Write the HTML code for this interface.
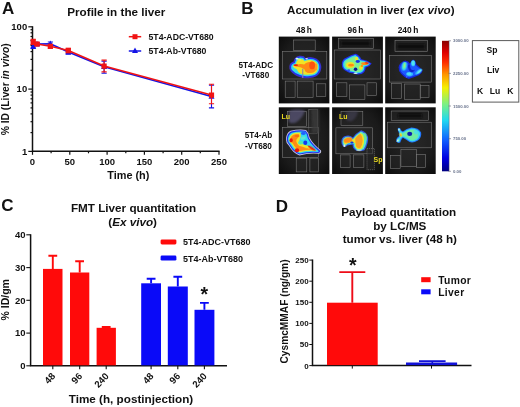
<!DOCTYPE html>
<html><head><meta charset="utf-8"><title>Figure</title>
<style>html,body{margin:0;padding:0;background:#fff}body{width:520px;height:407px;overflow:hidden}svg{display:block}</style>
</head><body>
<svg width="520" height="407" viewBox="0 0 520 407">
<defs>
<filter id="b1" x="-20%" y="-20%" width="140%" height="140%"><feGaussianBlur stdDeviation="0.8"/></filter>
<filter id="b2" x="-20%" y="-20%" width="140%" height="140%"><feGaussianBlur stdDeviation="1.2"/></filter>
<filter id="z5" x="-20%" y="-20%" width="140%" height="140%"><feGaussianBlur stdDeviation="5"/></filter>
<filter id="z3" x="-20%" y="-20%" width="140%" height="140%"><feGaussianBlur stdDeviation="3.5"/></filter>
<filter id="z8" x="-20%" y="-20%" width="140%" height="140%"><feGaussianBlur stdDeviation="7"/></filter>
<filter id="soft" x="-5%" y="-5%" width="110%" height="110%"><feGaussianBlur stdDeviation="0.35"/></filter>
<linearGradient id="jet" x1="0" y1="0" x2="0" y2="1">
<stop offset="0" stop-color="#8a0000"/><stop offset="0.09" stop-color="#e00000"/><stop offset="0.17" stop-color="#ff3000"/><stop offset="0.26" stop-color="#ff9800"/><stop offset="0.36" stop-color="#f4f000"/><stop offset="0.49" stop-color="#78f088"/><stop offset="0.61" stop-color="#20d8f0"/><stop offset="0.76" stop-color="#1060ff"/><stop offset="0.9" stop-color="#0000e0"/><stop offset="1" stop-color="#000080"/>
</linearGradient>
<radialGradient id="pbg" cx="0.5" cy="0.5" r="0.7"><stop offset="0" stop-color="#262626"/><stop offset="0.65" stop-color="#1a1a1a"/><stop offset="1" stop-color="#0c0c0c"/></radialGradient>
</defs>
<rect width="520" height="407" fill="#fff"/>
<text x="2" y="13.8" font-size="17" text-anchor="start" fill="#111" font-family="Liberation Sans, sans-serif" font-weight="bold" >A</text>
<text x="241.3" y="13.8" font-size="17" text-anchor="start" fill="#111" font-family="Liberation Sans, sans-serif" font-weight="bold" >B</text>
<text x="1.3" y="211.4" font-size="17" text-anchor="start" fill="#111" font-family="Liberation Sans, sans-serif" font-weight="bold" >C</text>
<text x="275.7" y="211.5" font-size="17" text-anchor="start" fill="#111" font-family="Liberation Sans, sans-serif" font-weight="bold" >D</text>
<text x="116.3" y="16" font-size="11.7" text-anchor="middle" fill="#111" font-family="Liberation Sans, sans-serif" font-weight="bold" >Profile in the liver</text>
<g stroke="#111" stroke-width="1.5" fill="none">
<path d="M32.5 26.2V151.3H219.6"/>
</g>
<g stroke="#111" stroke-width="1.2" fill="none">
<path d="M28.3 151.4H32.5"/>
<path d="M28.3 89.1H32.5"/>
<path d="M28.3 26.8H32.5"/>
<path d="M30.5 132.6H32.5"/>
<path d="M30.5 121.7H32.5"/>
<path d="M30.5 113.9H32.5"/>
<path d="M30.5 107.9H32.5"/>
<path d="M30.5 102.9H32.5"/>
<path d="M30.5 98.8H32.5"/>
<path d="M30.5 95.1H32.5"/>
<path d="M30.5 92.0H32.5"/>
<path d="M30.5 70.3H32.5"/>
<path d="M30.5 59.4H32.5"/>
<path d="M30.5 51.6H32.5"/>
<path d="M30.5 45.6H32.5"/>
<path d="M30.5 40.6H32.5"/>
<path d="M30.5 36.5H32.5"/>
<path d="M30.5 32.8H32.5"/>
<path d="M30.5 29.7H32.5"/>
<path d="M32.5 151.3V154.8"/>
<path d="M69.8 151.3V154.8"/>
<path d="M107.1 151.3V154.8"/>
<path d="M144.4 151.3V154.8"/>
<path d="M181.7 151.3V154.8"/>
<path d="M219.0 151.3V154.8"/>
<path d="M51.1 151.3V153.3"/>
<path d="M88.5 151.3V153.3"/>
<path d="M125.8 151.3V153.3"/>
<path d="M163.1 151.3V153.3"/>
<path d="M200.3 151.3V153.3"/>
</g>
<text x="27.2" y="154.70000000000002" font-size="9.5" text-anchor="end" fill="#111" font-family="Liberation Sans, sans-serif" font-weight="bold" >1</text>
<text x="27.2" y="92.39999999999999" font-size="9.5" text-anchor="end" fill="#111" font-family="Liberation Sans, sans-serif" font-weight="bold" >10</text>
<text x="27.2" y="30.1" font-size="9.5" text-anchor="end" fill="#111" font-family="Liberation Sans, sans-serif" font-weight="bold" >100</text>
<text x="32.5" y="165" font-size="9.5" text-anchor="middle" fill="#111" font-family="Liberation Sans, sans-serif" font-weight="bold" >0</text>
<text x="69.8" y="165" font-size="9.5" text-anchor="middle" fill="#111" font-family="Liberation Sans, sans-serif" font-weight="bold" >50</text>
<text x="107.1" y="165" font-size="9.5" text-anchor="middle" fill="#111" font-family="Liberation Sans, sans-serif" font-weight="bold" >100</text>
<text x="144.4" y="165" font-size="9.5" text-anchor="middle" fill="#111" font-family="Liberation Sans, sans-serif" font-weight="bold" >150</text>
<text x="181.7" y="165" font-size="9.5" text-anchor="middle" fill="#111" font-family="Liberation Sans, sans-serif" font-weight="bold" >200</text>
<text x="219.0" y="165" font-size="9.5" text-anchor="middle" fill="#111" font-family="Liberation Sans, sans-serif" font-weight="bold" >250</text>
<text x="128.3" y="178.7" font-size="10.9" text-anchor="middle" fill="#111" font-family="Liberation Sans, sans-serif" font-weight="bold" >Time (h)</text>
<text transform="translate(9,89.3) rotate(-90)" font-size="10.3" text-anchor="middle" fill="#111" font-family="Liberation Sans, sans-serif" font-weight="bold">% ID (Liver <tspan font-style="italic">in vivo</tspan>)</text>
<g stroke="#1414e6" fill="none">
<polyline points="33.2,46.3 37.0,44.0 50.4,43.8 68.3,52.0 104.1,66.8 211.5,96.5" stroke-width="1.6"/>
<path d="M33.2 44.5V48.4M30.6 44.5h5.2M30.6 48.4h5.2" stroke-width="1.1"/>
<path d="M37.0 42.5V45.6M34.4 42.5h5.2M34.4 45.6h5.2" stroke-width="1.1"/>
<path d="M50.4 42.0V45.6M47.8 42.0h5.2M47.8 45.6h5.2" stroke-width="1.1"/>
<path d="M68.3 50.0V54.1M65.7 50.0h5.2M65.7 54.1h5.2" stroke-width="1.1"/>
<path d="M104.1 61.2V73.2M101.5 61.2h5.2M101.5 73.2h5.2" stroke-width="1.1"/>
<path d="M211.5 85.3V107.9M208.9 85.3h5.2M208.9 107.9h5.2" stroke-width="1.1"/>
</g>
<path d="M33.2 43.1l3 5.4h-6z" fill="#1414e6"/>
<path d="M37.0 40.8l3 5.4h-6z" fill="#1414e6"/>
<path d="M50.4 40.6l3 5.4h-6z" fill="#1414e6"/>
<path d="M68.3 48.8l3 5.4h-6z" fill="#1414e6"/>
<path d="M104.1 63.6l3 5.4h-6z" fill="#1414e6"/>
<path d="M211.5 93.3l3 5.4h-6z" fill="#1414e6"/>
<g stroke="#f01414" fill="none">
<polyline points="33.2,41.8 37.0,44.0 50.4,46.3 68.3,50.5 104.1,66.1 211.5,95.1" stroke-width="1.6"/>
<path d="M33.2 39.3V44.5M30.6 39.3h5.2M30.6 44.5h5.2" stroke-width="1.1"/>
<path d="M37.0 42.5V45.6M34.4 42.5h5.2M34.4 45.6h5.2" stroke-width="1.1"/>
<path d="M50.4 44.5V48.1M47.8 44.5h5.2M47.8 48.1h5.2" stroke-width="1.1"/>
<path d="M68.3 48.4V52.6M65.7 48.4h5.2M65.7 52.6h5.2" stroke-width="1.1"/>
<path d="M104.1 60.1V71.9M101.5 60.1h5.2M101.5 71.9h5.2" stroke-width="1.1"/>
<path d="M211.5 84.2V103.8M208.9 84.2h5.2M208.9 103.8h5.2" stroke-width="1.1"/>
</g>
<rect x="30.6" y="39.2" width="5.2" height="5.2" fill="#f01414"/>
<rect x="34.4" y="41.4" width="5.2" height="5.2" fill="#f01414"/>
<rect x="47.8" y="43.7" width="5.2" height="5.2" fill="#f01414"/>
<rect x="65.7" y="47.9" width="5.2" height="5.2" fill="#f01414"/>
<rect x="101.5" y="63.5" width="5.2" height="5.2" fill="#f01414"/>
<rect x="208.9" y="92.5" width="5.2" height="5.2" fill="#f01414"/>
<path d="M128.8 36.7h12.4" stroke="#f01414" stroke-width="1.5"/><rect x="132.5" y="34.2" width="5" height="5" fill="#f01414"/>
<path d="M128.8 51h12.4" stroke="#1414e6" stroke-width="1.5"/><path d="M135 47.6l3 5.4h-6z" fill="#1414e6"/>
<text x="148.5" y="39.9" font-size="8.7" text-anchor="start" fill="#111" font-family="Liberation Sans, sans-serif" font-weight="bold" >5T4-ADC-VT680</text>
<text x="148.5" y="54.2" font-size="8.7" text-anchor="start" fill="#111" font-family="Liberation Sans, sans-serif" font-weight="bold" >5T4-Ab-VT680</text>
<text x="370.8" y="14.3" font-size="11.6" text-anchor="middle" fill="#111" font-family="Liberation Sans, sans-serif" font-weight="bold">Accumulation in liver (<tspan font-style="italic">ex vivo</tspan>)</text>
<text x="304" y="32.5" font-size="8.4" text-anchor="middle" fill="#111" font-family="Liberation Sans, sans-serif" font-weight="bold" word-spacing="-0.8">48 h</text>
<text x="355.5" y="32.5" font-size="8.4" text-anchor="middle" fill="#111" font-family="Liberation Sans, sans-serif" font-weight="bold" word-spacing="-0.8">96 h</text>
<text x="408" y="32.5" font-size="8.4" text-anchor="middle" fill="#111" font-family="Liberation Sans, sans-serif" font-weight="bold" word-spacing="-0.8">240 h</text>
<text x="255.8" y="67.5" font-size="8.2" text-anchor="middle" fill="#111" font-family="Liberation Sans, sans-serif" font-weight="bold" >5T4-ADC</text>
<text x="255.8" y="77.8" font-size="8.2" text-anchor="middle" fill="#111" font-family="Liberation Sans, sans-serif" font-weight="bold" >-VT680</text>
<text x="258.5" y="138.2" font-size="8.2" text-anchor="middle" fill="#111" font-family="Liberation Sans, sans-serif" font-weight="bold" >5T4-Ab</text>
<text x="258.5" y="148.6" font-size="8.2" text-anchor="middle" fill="#111" font-family="Liberation Sans, sans-serif" font-weight="bold" >-VT680</text>
<rect x="278.8" y="36.6" width="50.6" height="66.8" fill="url(#pbg)"/>
<rect x="278.8" y="107.3" width="50.6" height="66.7" fill="url(#pbg)"/>
<rect x="332.1" y="36.6" width="50.8" height="66.8" fill="url(#pbg)"/>
<rect x="332.1" y="107.3" width="50.8" height="66.7" fill="url(#pbg)"/>
<rect x="385.2" y="36.6" width="50.5" height="66.8" fill="url(#pbg)"/>
<rect x="385.2" y="107.3" width="50.5" height="66.7" fill="url(#pbg)"/>
<rect x="293.6" y="40.0" width="21.6" height="10.6" fill="#2a2a2a" fill-opacity="0.45" stroke="#808080" stroke-width="0.55"/>
<rect x="282.4" y="51.5" width="44.4" height="27.5" fill="#2a2a2a" fill-opacity="0.45" stroke="#808080" stroke-width="0.55"/>
<rect x="285.2" y="81.1" width="9.9" height="16.5" fill="#2a2a2a" fill-opacity="0.45" stroke="#808080" stroke-width="0.55"/>
<rect x="297.2" y="81.1" width="15.9" height="16.5" fill="#2a2a2a" fill-opacity="0.45" stroke="#808080" stroke-width="0.55"/>
<rect x="316.3" y="83.8" width="9.5" height="12.7" fill="#2a2a2a" fill-opacity="0.45" stroke="#808080" stroke-width="0.55"/>
<rect x="338.5" y="38.3" width="34.9" height="10.2" fill="#2a2a2a" fill-opacity="0.45" stroke="#808080" stroke-width="0.55"/>
<rect x="334.2" y="50.0" width="46.1" height="29.0" fill="#2a2a2a" fill-opacity="0.45" stroke="#808080" stroke-width="0.55"/>
<rect x="336.3" y="82.8" width="10.6" height="13.8" fill="#2a2a2a" fill-opacity="0.45" stroke="#808080" stroke-width="0.55"/>
<rect x="349.5" y="84.9" width="15.4" height="14.4" fill="#2a2a2a" fill-opacity="0.45" stroke="#808080" stroke-width="0.55"/>
<rect x="367.0" y="82.8" width="9.5" height="12.7" fill="#2a2a2a" fill-opacity="0.45" stroke="#808080" stroke-width="0.55"/>
<rect x="341.0" y="41.0" width="29.0" height="5.0" fill="#0a0a0a" filter="url(#b1)"/>
<rect x="287.7" y="111.5" width="19.0" height="14.8" fill="#2a2a2a" fill-opacity="0.45" stroke="#808080" stroke-width="0.55"/>
<rect x="308.8" y="109.4" width="8.5" height="24.3" fill="#2a2a2a" fill-opacity="0.45" stroke="#808080" stroke-width="0.55"/>
<rect x="282.4" y="127.4" width="36.0" height="30.0" fill="#2a2a2a" fill-opacity="0.45" stroke="#808080" stroke-width="0.55"/>
<rect x="296.2" y="158.1" width="10.6" height="13.8" fill="#2a2a2a" fill-opacity="0.45" stroke="#808080" stroke-width="0.55"/>
<rect x="309.9" y="158.1" width="8.5" height="13.8" fill="#2a2a2a" fill-opacity="0.45" stroke="#808080" stroke-width="0.55"/>
<rect x="341.0" y="111.5" width="21.8" height="13.8" fill="#2a2a2a" fill-opacity="0.45" stroke="#808080" stroke-width="0.55"/>
<rect x="335.9" y="127.8" width="36.8" height="26.0" fill="#2a2a2a" fill-opacity="0.45" stroke="#808080" stroke-width="0.55"/>
<rect x="340.6" y="154.9" width="9.5" height="12.7" fill="#2a2a2a" fill-opacity="0.45" stroke="#808080" stroke-width="0.55"/>
<rect x="353.3" y="154.9" width="10.6" height="12.7" fill="#2a2a2a" fill-opacity="0.45" stroke="#808080" stroke-width="0.55"/>
<rect x="367.0" y="148.5" width="7.4" height="21.2" fill="#2a2a2a" fill-opacity="0.45" stroke="#808080" stroke-width="0.55" stroke-dasharray="1.2 0.8"/>
<rect x="395.0" y="40.4" width="32.7" height="11.2" fill="#2a2a2a" fill-opacity="0.45" stroke="#808080" stroke-width="0.55"/>
<rect x="389.3" y="55.4" width="42.1" height="26.7" fill="#2a2a2a" fill-opacity="0.45" stroke="#808080" stroke-width="0.55"/>
<rect x="391.6" y="83.4" width="9.9" height="15.0" fill="#2a2a2a" fill-opacity="0.45" stroke="#808080" stroke-width="0.55"/>
<rect x="404.3" y="84.0" width="15.9" height="15.3" fill="#2a2a2a" fill-opacity="0.45" stroke="#808080" stroke-width="0.55"/>
<rect x="420.2" y="85.3" width="8.8" height="12.1" fill="#2a2a2a" fill-opacity="0.45" stroke="#808080" stroke-width="0.55"/>
<rect x="397.0" y="44.0" width="28.0" height="5.0" fill="#0a0a0a" filter="url(#b1)"/>
<rect x="391.2" y="111.0" width="37.4" height="9.3" fill="#2a2a2a" fill-opacity="0.45" stroke="#808080" stroke-width="0.55"/>
<rect x="387.5" y="122.2" width="43.9" height="25.6" fill="#2a2a2a" fill-opacity="0.45" stroke="#808080" stroke-width="0.55"/>
<rect x="390.3" y="155.3" width="9.9" height="13.1" fill="#2a2a2a" fill-opacity="0.45" stroke="#808080" stroke-width="0.55"/>
<rect x="400.9" y="149.7" width="15.5" height="16.8" fill="#2a2a2a" fill-opacity="0.45" stroke="#808080" stroke-width="0.55"/>
<rect x="416.4" y="154.3" width="9.3" height="13.1" fill="#2a2a2a" fill-opacity="0.45" stroke="#808080" stroke-width="0.55"/>
<rect x="398.0" y="113.5" width="24.0" height="4.5" fill="#0a0a0a" filter="url(#b1)"/>
<path d="M289 111 Q296 108.500 305 110.500 Q303 118 296 122.500 Q290 124.500 288.500 121Z" fill="#5a5678" opacity="0.75" filter="url(#b1)"/>
<path d="M311 109 L319 109 L319 132 L312 134Z" fill="#3a3a3a" opacity="0.8" filter="url(#b1)"/>
<path d="M346 112 Q352 110 358 111 Q357 118 352 121 Q347 122 346 119Z" fill="#46445a" opacity="0.6" filter="url(#b1)"/>
<g transform="translate(285,50) scale(0.09615)">
<path d="M45 170 Q50 130 90 120 Q95 70 150 60 Q200 55 215 85 Q250 65 300 80 Q350 90 370 140 Q390 190 360 240 Q330 290 260 290 Q200 300 150 280 Q90 260 60 220 Q40 200 45 170Z" fill="#4030c0" filter="url(#z8)"/>
<path d="M52 171 Q57 136 95 126 Q100 78 150 68 Q197 63 212 93 Q250 73 297 87 Q345 97 363 143 Q381 190 353 236 Q325 282 259 282 Q200 292 153 273 Q95 254 66 216 Q48 198 52 171Z" fill="#2030f0" filter="url(#z5)"/>
<path d="M64 172 Q68 144 104 136 Q108 90 150 80 Q192 75 208 105 Q250 85 293 97 Q336 107 352 147 Q367 190 343 230 Q318 270 258 270 Q200 279 157 261 Q104 244 76 210 Q60 196 64 172Z" fill="#30d8f0" filter="url(#z5)"/>
<path d="M80 170 Q86 152 114 147 Q120 103 152 93 Q188 89 203 118 Q250 98 290 109 Q326 118 340 152 Q352 190 331 223 Q309 255 256 255 Q200 263 162 247 Q132 233 122 200 Q96 195 80 170Z" fill="#f0e428" filter="url(#z5)"/>
<path d="M92 165 Q100 150 130 150 Q170 140 200 152 Q230 118 285 123 Q318 130 328 157 Q337 190 318 216 Q299 242 255 239 Q212 243 202 200 Q170 176 130 173 Q105 176 92 165Z" fill="#ff8a14" filter="url(#z5)"/>
<ellipse cx="112" cy="157" rx="24" ry="9" fill="#e81810" filter="url(#z5)"/>
<ellipse cx="282" cy="160" rx="30" ry="40" fill="#ff5210" filter="url(#z5)"/>
<ellipse cx="325" cy="175" rx="12" ry="35" fill="#f8a020" filter="url(#z5)"/>
<ellipse cx="125" cy="90" rx="16" ry="9" fill="#d8f8f0" filter="url(#z5)"/>
<ellipse cx="150" cy="100" rx="18" ry="10" fill="#e0f060" filter="url(#z5)"/>
<ellipse cx="100" cy="205" rx="22" ry="10" fill="#40e0d0" filter="url(#z5)" transform="rotate(30 100 205)"/>
<rect x="177" y="195" width="14" height="95" fill="#8c84a8" opacity="0.8" filter="url(#z5)"/>
<ellipse cx="225" cy="90" rx="14" ry="8" fill="#d0d0f0" filter="url(#z5)"/>
</g>
<g transform="translate(335,50) scale(0.09615)">
<g transform="translate(225,145) scale(1.1) translate(-225,-145)">
<path d="M85 150 Q85 100 130 85 Q170 60 215 48 Q250 60 270 100 Q330 110 367 140 Q350 170 310 180 Q310 220 270 240 Q230 250 200 235 Q150 235 120 210 Q85 190 85 150Z" fill="#2030f0" filter="url(#z8)"/>
<path d="M97 150 Q97 108 135 95 Q172 72 213 61 Q243 72 262 110 Q322 120 350 141 Q340 162 299 171 Q299 212 265 229 Q230 238 202 224 Q155 224 127 201 Q97 184 97 150Z" fill="#30d8f0" filter="url(#z5)"/>
<path d="M110 150 Q110 116 142 105 Q175 84 210 75 Q236 85 253 120 Q312 130 335 142 Q325 155 288 162 Q288 203 259 218 Q230 226 204 213 Q160 213 135 192 Q110 178 110 150Z" fill="#80f090" filter="url(#z5)"/>
<ellipse cx="165" cy="155" rx="40" ry="28" fill="#f0e428" filter="url(#z5)"/>
<ellipse cx="172" cy="157" rx="28" ry="13" fill="#ff8a14" filter="url(#z5)"/>
<ellipse cx="225" cy="95" rx="14" ry="18" fill="#f0e428" filter="url(#z5)"/>
<ellipse cx="300" cy="142" rx="32" ry="14" fill="#ff8a14" filter="url(#z5)"/>
<ellipse cx="322" cy="136" rx="18" ry="9" fill="#e81810" filter="url(#z5)" transform="rotate(15 322 136)"/>
<ellipse cx="236" cy="122" rx="20" ry="14" fill="#1838e8" filter="url(#z5)"/>
<ellipse cx="215" cy="195" rx="17" ry="17" fill="#101890" filter="url(#z5)"/>
<ellipse cx="150" cy="205" rx="14" ry="9" fill="#2858f0" filter="url(#z5)"/>
<ellipse cx="265" cy="180" rx="18" ry="20" fill="#f0e428" filter="url(#z5)"/>
<ellipse cx="275" cy="165" rx="12" ry="10" fill="#ff8a14" filter="url(#z5)"/>
<ellipse cx="215" cy="232" rx="20" ry="7" fill="#d0f0f0" filter="url(#z5)"/>
</g>
</g>
<g transform="translate(387,50) scale(0.09615)">
<path d="M120 180 Q125 130 190 108 Q225 115 240 140 Q250 105 272 98 Q300 110 305 150 Q340 175 372 210 Q365 245 330 262 Q280 285 225 302 Q175 285 148 250 Q118 220 120 180Z" fill="#1428d8" filter="url(#z8)"/>
<path d="M135 182 Q140 140 190 122 Q218 128 232 156 Q250 120 270 113 Q290 122 294 158 Q335 185 356 212 Q350 238 322 250 Q275 272 227 287 Q185 272 160 242 Q133 215 135 182Z" fill="#1c58ff" filter="url(#z5)"/>
<ellipse cx="180" cy="170" rx="27" ry="46" fill="#30b8ff" filter="url(#z5)" transform="rotate(10 180 170)"/>
<ellipse cx="180" cy="165" rx="17" ry="40" fill="#50e8c8" filter="url(#z3)" transform="rotate(10 180 165)"/>
<ellipse cx="182" cy="160" rx="8" ry="26" fill="#a0f070" filter="url(#z3)" transform="rotate(10 182 160)"/>
<ellipse cx="272" cy="138" rx="22" ry="32" fill="#30b8ff" filter="url(#z5)"/>
<ellipse cx="272" cy="135" rx="16" ry="26" fill="#50e4f0" filter="url(#z3)"/>
<ellipse cx="328" cy="226" rx="42" ry="15" fill="#30b8ff" filter="url(#z5)" transform="rotate(-40 328 226)"/>
<ellipse cx="338" cy="224" rx="32" ry="10" fill="#68ecec" filter="url(#z3)" transform="rotate(-40 338 224)"/>
<ellipse cx="235" cy="250" rx="36" ry="22" fill="#30b8ff" filter="url(#z5)"/>
<ellipse cx="230" cy="248" rx="24" ry="15" fill="#50dcf0" filter="url(#z3)"/>
<ellipse cx="205" cy="278" rx="10" ry="10" fill="#3060ff" filter="url(#z5)"/>
<path d="M220 150 Q212 200 245 228 Q278 238 292 205 Q270 216 250 200 Q236 180 240 150Z" fill="#1020c8" filter="url(#z5)"/>
</g>
<g transform="translate(280,122) scale(0.09615)">
<g transform="translate(240,210) scale(1.05,1.08) translate(-240,-210)">
<path d="M70 180 Q75 120 115 100 Q200 80 270 92 Q300 120 305 165 Q335 225 418 290 Q425 318 395 322 Q300 312 205 338 Q140 318 100 245 Q68 215 70 180Z" fill="#c8c8e0" filter="url(#z5)"/>
<path d="M78 180 Q83 126 119 108 Q200 89 266 100 Q292 125 297 168 Q328 230 410 293 Q414 311 392 314 Q300 304 206 329 Q146 310 107 241 Q76 213 78 180Z" fill="#2030f0" filter="url(#z5)"/>
<path d="M90 180 Q95 134 126 118 Q200 100 260 110 Q282 130 287 172 Q320 236 396 297 Q392 305 385 305 Q300 295 207 318 Q154 301 117 236 Q88 210 90 180Z" fill="#30d8f0" filter="url(#z5)"/>
<path d="M103 180 Q108 143 134 129 Q180 113 215 120 Q225 160 200 200 Q230 235 300 250 Q345 275 375 296 Q300 285 208 306 Q163 291 128 231 Q101 207 103 180Z" fill="#f0e428" filter="url(#z5)"/>
<path d="M115 178 Q120 150 142 140 Q175 128 200 133 Q205 160 175 185 Q165 215 200 245 Q270 262 340 285 Q290 280 210 295 Q172 282 140 226 Q113 203 115 178Z" fill="#ff8a14" filter="url(#z5)"/>
<ellipse cx="122" cy="192" rx="16" ry="20" fill="#e81810" filter="url(#z5)"/>
<ellipse cx="180" cy="150" rx="26" ry="10" fill="#ff6810" filter="url(#z5)"/>
<ellipse cx="180" cy="288" rx="22" ry="20" fill="#e81810" filter="url(#z5)"/>
<ellipse cx="325" cy="268" rx="45" ry="11" fill="#e81810" filter="url(#z5)" transform="rotate(32 325 268)"/>
<ellipse cx="243" cy="125" rx="25" ry="16" fill="#2060ff" filter="url(#z5)"/>
<ellipse cx="262" cy="215" rx="20" ry="22" fill="#1838e8" filter="url(#z5)"/>
<ellipse cx="215" cy="215" rx="25" ry="18" fill="#50e8b0" filter="url(#z5)"/>
<ellipse cx="240" cy="170" rx="28" ry="16" fill="#60e8d0" filter="url(#z5)" transform="rotate(-20 240 170)"/>
<ellipse cx="270" cy="255" rx="22" ry="9" fill="#f0e428" filter="url(#z5)" transform="rotate(20 270 255)"/>
</g>
</g>
<g transform="translate(335,122) scale(0.09615)">
<path d="M66 200 Q68 160 105 146 Q150 130 186 160 Q215 118 272 86 Q327 105 344 155 Q352 215 307 294 Q260 312 222 300 Q178 270 184 236 Q150 236 128 244 Q105 268 84 255 Q64 232 66 200Z" fill="#3058e8" filter="url(#z8)"/>
<path d="M78 200 Q82 168 110 157 Q152 143 186 176 Q220 130 270 100 Q316 118 330 158 Q337 212 298 284 Q258 298 227 290 Q190 265 196 226 Q150 223 128 232 Q104 254 93 246 Q76 228 78 200Z" fill="#58e8c8" filter="url(#z5)"/>
<path d="M90 200 Q94 175 117 166 Q154 154 184 188 Q225 141 268 114 Q292 123 302 160 Q310 212 285 272 Q257 286 232 280 Q203 258 210 218 Q150 210 127 220 Q110 236 102 232 Q89 220 90 200Z" fill="#f0e428" filter="url(#z5)"/>
<ellipse cx="135" cy="188" rx="46" ry="27" fill="#ff8a14" filter="url(#z3)" transform="rotate(-15 135 188)"/>
<path d="M210 175 Q238 130 266 124 Q288 150 288 198 Q283 248 264 270 Q235 278 221 252 Q211 215 210 175Z" fill="#f8a020" filter="url(#z3)"/>
<ellipse cx="313" cy="150" rx="14" ry="36" fill="#70e890" filter="url(#z5)" transform="rotate(-10 313 150)"/>
<ellipse cx="176" cy="213" rx="17" ry="11" fill="#1030e0" filter="url(#z3)"/>
<ellipse cx="150" cy="226" rx="14" ry="7" fill="#30b0f0" filter="url(#z3)"/>
<ellipse cx="98" cy="246" rx="10" ry="13" fill="#e8f0e0" filter="url(#z3)"/>
<ellipse cx="250" cy="292" rx="30" ry="7" fill="#d8f0c0" filter="url(#z3)"/>
</g>
<g transform="translate(387,118) scale(0.09615)">
<path d="M112 108 Q125 95 138 110 Q145 135 165 140 Q200 110 255 98 Q330 100 355 150 Q362 200 322 235 Q270 265 235 250 Q200 222 165 205 Q150 215 138 255 Q115 268 95 245 Q92 210 125 190 Q135 170 120 145 Q110 125 112 108Z" fill="#2078ff" filter="url(#z8)"/>
<path d="M120 114 Q126 106 132 116 Q140 142 166 150 Q205 122 255 110 Q320 112 343 154 Q348 197 314 226 Q268 252 240 239 Q205 212 163 194 Q140 205 130 246 Q115 255 104 240 Q102 214 132 197 Q146 172 128 145 Q118 128 120 114Z" fill="#40dce8" filter="url(#z5)"/>
<path d="M160 165 Q205 135 255 123 Q305 125 322 160 Q328 195 305 215 Q268 238 245 226 Q210 200 160 182Z" fill="#70eca0" filter="url(#z5)"/>
<ellipse cx="143" cy="175" rx="14" ry="22" fill="#d8e840" filter="url(#z5)" transform="rotate(-20 143 175)"/>
<ellipse cx="143" cy="180" rx="7" ry="10" fill="#f0b020" filter="url(#z5)"/>
<ellipse cx="124" cy="120" rx="7" ry="12" fill="#e0f8e8" filter="url(#z5)"/>
<ellipse cx="112" cy="235" rx="9" ry="14" fill="#d8f8d0" filter="url(#z5)" transform="rotate(20 112 235)"/>
<ellipse cx="236" cy="165" rx="26" ry="23" fill="#0c1cb0" filter="url(#z5)"/>
<ellipse cx="300" cy="150" rx="25" ry="18" fill="#50e0e0" filter="url(#z5)" transform="rotate(40 300 150)"/>
</g>
<text x="285.8" y="118.8" font-size="7" text-anchor="middle" fill="#e8d820" font-family="Liberation Sans, sans-serif" font-weight="bold">Lu</text>
<text x="343.2" y="118.8" font-size="7" text-anchor="middle" fill="#e8d820" font-family="Liberation Sans, sans-serif" font-weight="bold">Lu</text>
<text x="378" y="162" font-size="7" text-anchor="middle" fill="#e8d820" font-family="Liberation Sans, sans-serif" font-weight="bold">Sp</text>
<rect x="442" y="40.800" width="7" height="130.500" fill="url(#jet)"/><path d="M449.2 40.8v130.5" stroke="#556" stroke-width="0.5"/>
<path d="M448.500 40.8h2.5" stroke="#667" stroke-width="0.6"/>
<text x="453" y="42.3" font-size="4.3" fill="#66708a" font-family="Liberation Sans, sans-serif" font-weight="bold">3000.00</text>
<path d="M448.500 73.4h2.5" stroke="#667" stroke-width="0.6"/>
<text x="453" y="74.9" font-size="4.3" fill="#66708a" font-family="Liberation Sans, sans-serif" font-weight="bold">2250.00</text>
<path d="M448.500 106h2.5" stroke="#667" stroke-width="0.6"/>
<text x="453" y="107.5" font-size="4.3" fill="#66708a" font-family="Liberation Sans, sans-serif" font-weight="bold">1500.00</text>
<path d="M448.500 138.7h2.5" stroke="#667" stroke-width="0.6"/>
<text x="453" y="140.2" font-size="4.3" fill="#66708a" font-family="Liberation Sans, sans-serif" font-weight="bold">750.00</text>
<path d="M448.500 171.3h2.5" stroke="#667" stroke-width="0.6"/>
<text x="453" y="172.8" font-size="4.3" fill="#66708a" font-family="Liberation Sans, sans-serif" font-weight="bold">0.00</text>
<rect x="472.4" y="40.6" width="46.4" height="61.5" fill="#fff" stroke="#5a5a5a" stroke-width="1"/>
<text x="492" y="53" font-size="8.6" text-anchor="middle" fill="#111" font-family="Liberation Sans, sans-serif" font-weight="bold" >Sp</text>
<text x="493.2" y="73" font-size="8.6" text-anchor="middle" fill="#111" font-family="Liberation Sans, sans-serif" font-weight="bold" >Liv</text>
<text x="480" y="94" font-size="8.6" text-anchor="middle" fill="#111" font-family="Liberation Sans, sans-serif" font-weight="bold" >K</text>
<text x="495" y="94" font-size="8.6" text-anchor="middle" fill="#111" font-family="Liberation Sans, sans-serif" font-weight="bold" >Lu</text>
<text x="510.3" y="94" font-size="8.6" text-anchor="middle" fill="#111" font-family="Liberation Sans, sans-serif" font-weight="bold" >K</text>
<text x="133.6" y="211.8" font-size="11.7" text-anchor="middle" fill="#111" font-family="Liberation Sans, sans-serif" font-weight="bold" >FMT Liver quantitation</text>
<text x="132.6" y="226.3" font-size="11.7" text-anchor="middle" fill="#111" font-family="Liberation Sans, sans-serif" font-weight="bold">(<tspan font-style="italic">Ex vivo</tspan>)</text>
<path d="M30.6 234.2V365.8H227" stroke="#111" stroke-width="1.5" fill="none"/>
<path d="M26.3 365.8H30.6" stroke="#111" stroke-width="1.1"/>
<text x="25.5" y="369.2" font-size="9.5" text-anchor="end" fill="#111" font-family="Liberation Sans, sans-serif" font-weight="bold" >0</text>
<path d="M26.3 333.1H30.6" stroke="#111" stroke-width="1.1"/>
<text x="25.5" y="336.4" font-size="9.5" text-anchor="end" fill="#111" font-family="Liberation Sans, sans-serif" font-weight="bold" >10</text>
<path d="M26.3 300.3H30.6" stroke="#111" stroke-width="1.1"/>
<text x="25.5" y="303.7" font-size="9.5" text-anchor="end" fill="#111" font-family="Liberation Sans, sans-serif" font-weight="bold" >20</text>
<path d="M26.3 267.6H30.6" stroke="#111" stroke-width="1.1"/>
<text x="25.5" y="270.9" font-size="9.5" text-anchor="end" fill="#111" font-family="Liberation Sans, sans-serif" font-weight="bold" >30</text>
<path d="M26.3 234.8H30.6" stroke="#111" stroke-width="1.1"/>
<text x="25.5" y="238.2" font-size="9.5" text-anchor="end" fill="#111" font-family="Liberation Sans, sans-serif" font-weight="bold" >40</text>
<text transform="translate(9.3,299.8) rotate(-90)" font-size="10.5" text-anchor="middle" fill="#111" font-family="Liberation Sans, sans-serif" font-weight="bold">% ID/gm</text>
<rect x="43" y="268.9" width="19.5" height="96.4" fill="#ff0a0a"/>
<path d="M52.8 268.9V255.8M48.4 255.8h8.8" stroke="#ff0a0a" stroke-width="1.9" fill="none"/>
<path d="M52.8 365.8v3.5" stroke="#111" stroke-width="1.1"/>
<text transform="translate(55.9,376.6) rotate(-47)" font-size="9.6" text-anchor="end" fill="#111" font-family="Liberation Sans, sans-serif" font-weight="bold">48</text>
<rect x="70" y="272.5" width="19.3" height="92.8" fill="#ff0a0a"/>
<path d="M79.7 272.5V261.3M75.2 261.3h8.8" stroke="#ff0a0a" stroke-width="1.9" fill="none"/>
<path d="M79.7 365.8v3.5" stroke="#111" stroke-width="1.1"/>
<text transform="translate(82.8,376.6) rotate(-47)" font-size="9.6" text-anchor="end" fill="#111" font-family="Liberation Sans, sans-serif" font-weight="bold">96</text>
<rect x="96.6" y="327.8" width="19.3" height="37.5" fill="#ff0a0a"/>
<path d="M106.2 327.8V327.0M101.8 327.0h8.8" stroke="#ff0a0a" stroke-width="1.9" fill="none"/>
<path d="M106.2 365.8v3.5" stroke="#111" stroke-width="1.1"/>
<text transform="translate(109.3,376.6) rotate(-47)" font-size="9.6" text-anchor="end" fill="#111" font-family="Liberation Sans, sans-serif" font-weight="bold">240</text>
<rect x="141.2" y="283.3" width="19.8" height="82.0" fill="#0a0af8"/>
<path d="M151.1 283.3V278.7M146.7 278.7h8.8" stroke="#0a0af8" stroke-width="1.9" fill="none"/>
<path d="M151.1 365.8v3.5" stroke="#111" stroke-width="1.1"/>
<text transform="translate(154.2,376.6) rotate(-47)" font-size="9.6" text-anchor="end" fill="#111" font-family="Liberation Sans, sans-serif" font-weight="bold">48</text>
<rect x="167.8" y="286.5" width="20.0" height="78.8" fill="#0a0af8"/>
<path d="M177.8 286.5V276.7M173.4 276.7h8.8" stroke="#0a0af8" stroke-width="1.9" fill="none"/>
<path d="M177.8 365.8v3.5" stroke="#111" stroke-width="1.1"/>
<text transform="translate(180.9,376.6) rotate(-47)" font-size="9.6" text-anchor="end" fill="#111" font-family="Liberation Sans, sans-serif" font-weight="bold">96</text>
<rect x="194.5" y="309.8" width="19.9" height="55.5" fill="#0a0af8"/>
<path d="M204.4 309.8V302.9M200.0 302.9h8.8" stroke="#0a0af8" stroke-width="1.9" fill="none"/>
<path d="M204.4 365.8v3.5" stroke="#111" stroke-width="1.1"/>
<text transform="translate(207.5,376.6) rotate(-47)" font-size="9.6" text-anchor="end" fill="#111" font-family="Liberation Sans, sans-serif" font-weight="bold">240</text>
<text x="204.2" y="301.1" font-size="19.5" text-anchor="middle" fill="#111" font-family="Liberation Sans, sans-serif" font-weight="bold" >*</text>
<text x="131" y="403" font-size="11.7" text-anchor="middle" fill="#111" font-family="Liberation Sans, sans-serif" font-weight="bold" >Time (h, postinjection)</text>
<rect x="160.6" y="239.4" width="15.8" height="5" rx="1.4" fill="#ff0a0a"/>
<rect x="160.6" y="255.6" width="15.8" height="5" rx="1.4" fill="#0a0af8"/>
<text x="183" y="245.4" font-size="9" text-anchor="start" fill="#111" font-family="Liberation Sans, sans-serif" font-weight="bold" >5T4-ADC-VT680</text>
<text x="183" y="261.6" font-size="9" text-anchor="start" fill="#111" font-family="Liberation Sans, sans-serif" font-weight="bold" >5T4-Ab-VT680</text>
<text x="398.8" y="215.9" font-size="11.7" text-anchor="middle" fill="#111" font-family="Liberation Sans, sans-serif" font-weight="bold" >Payload quantitation</text>
<text x="399.8" y="229.7" font-size="11.7" text-anchor="middle" fill="#111" font-family="Liberation Sans, sans-serif" font-weight="bold" >by LC/MS</text>
<text x="399.8" y="243.4" font-size="11.7" text-anchor="middle" fill="#111" font-family="Liberation Sans, sans-serif" font-weight="bold" >tumor vs. liver (48 h)</text>
<path d="M312.5 259.5V365.6H471.500" stroke="#111" stroke-width="1.5" fill="none"/>
<path d="M309.3 365.6H312.5" stroke="#111" stroke-width="1"/>
<text x="308.7" y="368.5" font-size="8" text-anchor="end" fill="#111" font-family="Liberation Sans, sans-serif" font-weight="bold" >0</text>
<path d="M309.3 344.5H312.5" stroke="#111" stroke-width="1"/>
<text x="308.7" y="347.4" font-size="8" text-anchor="end" fill="#111" font-family="Liberation Sans, sans-serif" font-weight="bold" >50</text>
<path d="M309.3 323.4H312.5" stroke="#111" stroke-width="1"/>
<text x="308.7" y="326.3" font-size="8" text-anchor="end" fill="#111" font-family="Liberation Sans, sans-serif" font-weight="bold" >100</text>
<path d="M309.3 302.3H312.5" stroke="#111" stroke-width="1"/>
<text x="308.7" y="305.2" font-size="8" text-anchor="end" fill="#111" font-family="Liberation Sans, sans-serif" font-weight="bold" >150</text>
<path d="M309.3 281.2H312.5" stroke="#111" stroke-width="1"/>
<text x="308.7" y="284.1" font-size="8" text-anchor="end" fill="#111" font-family="Liberation Sans, sans-serif" font-weight="bold" >200</text>
<path d="M309.3 260.1H312.5" stroke="#111" stroke-width="1"/>
<text x="308.7" y="263.0" font-size="8" text-anchor="end" fill="#111" font-family="Liberation Sans, sans-serif" font-weight="bold" >250</text>
<text transform="translate(288,311.5) rotate(-90)" font-size="10.2" text-anchor="middle" fill="#111" font-family="Liberation Sans, sans-serif" font-weight="bold">CysmcMMAF (ng/gm)</text>
<rect x="327" y="302.7" width="50.700" height="62.4" fill="#ff0a0a"/>
<path d="M352.300 302.7V272.1M339.300 272.1h26" stroke="#ee0c18" stroke-width="1.9" fill="none"/>
<rect x="406" y="362.5" width="51.1" height="2.6" fill="#1212d8"/>
<path d="M419 361.1h26.6M432.3 361v2" stroke="#1212d8" stroke-width="1.6" fill="none"/>
<path d="M352.300 365.6v3M431.500 365.6v3" stroke="#111" stroke-width="1"/>
<text x="352.9" y="271.8" font-size="19.5" text-anchor="middle" fill="#111" font-family="Liberation Sans, sans-serif" font-weight="bold" >*</text>
<rect x="421.2" y="277.2" width="9.4" height="5" fill="#ff0a0a"/>
<rect x="421.2" y="289.3" width="9.4" height="5" fill="#0a0af8"/>
<text x="438.2" y="283.5" font-size="10.3" text-anchor="start" fill="#111" font-family="Liberation Sans, sans-serif" font-weight="bold" letter-spacing="0.35">Tumor</text>
<text x="438.2" y="295.8" font-size="10.3" text-anchor="start" fill="#111" font-family="Liberation Sans, sans-serif" font-weight="bold" letter-spacing="0.35">Liver</text>
</svg>
</body></html>
